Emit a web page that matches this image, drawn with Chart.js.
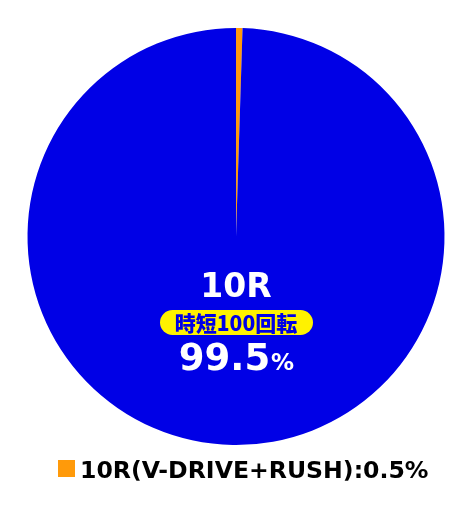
<!DOCTYPE html>
<html>
<head>
<meta charset="utf-8">
<script src="https://cdn.jsdelivr.net/npm/chart.js@4/dist/chart.umd.min.js"></script>
<style>
  body { margin: 0; background: #fff; }
  canvas { display: block; }
</style>
</head>
<body>
<canvas id="pieChart" width="474" height="507"></canvas>
<script>
// values
const labels = ['10R(V-DRIVE+RUSH)', '10R'];
const shares = [0.5, 99.5];
const sliceColors = ['#ff9a0a', '#0000e6'];
const subLabel = '時短100回転';

const latin = '"DejaVu Sans", sans-serif';
const cjk = '"Noto Sans CJK JP", sans-serif';

function roundRect(ctx, x, y, w, h, r) {
  ctx.beginPath();
  ctx.moveTo(x + r, y);
  ctx.lineTo(x + w - r, y);
  ctx.arc(x + w - r, y + r, r, -Math.PI / 2, Math.PI / 2);
  ctx.lineTo(x + r, y + h);
  ctx.arc(x + r, y + r, r, Math.PI / 2, Math.PI * 1.5);
  ctx.closePath();
}

const textPlugin = {
  id: 'textPlugin',
  afterDraw(chart) {
    const ctx = chart.ctx;
    const arc = chart.getDatasetMeta(0).data[0];
    const cx = arc.x;
    ctx.save();
    ctx.textAlign = 'center';
    ctx.textBaseline = 'alphabetic';

    // big slice name
    ctx.fillStyle = '#fff';
    ctx.font = 'bold 33px ' + latin;
    ctx.fillText(labels[1], cx, 297);

    // yellow pill
    ctx.fillStyle = '#fff200';
    roundRect(ctx, 160, 310, 153, 25, 12.5);
    ctx.fill();
    ctx.fillStyle = '#0000e6';
    ctx.font = '900 21px ' + cjk;
    ctx.textBaseline = 'middle';
    ctx.fillText(subLabel, cx, 323);

    // percentage
    ctx.textBaseline = 'alphabetic';
    ctx.fillStyle = '#fff';
    const num = String(shares[1]);
    ctx.font = 'bold 37px ' + latin;
    const wNum = ctx.measureText(num).width;
    ctx.font = 'bold 23px ' + latin;
    const wPct = ctx.measureText('%').width;
    let x0 = cx - (wNum + wPct) / 2;
    ctx.textAlign = 'left';
    ctx.font = 'bold 37px ' + latin;
    ctx.fillText(num, x0, 370);
    ctx.font = 'bold 23px ' + latin;
    ctx.fillText('%', x0 + wNum + 1, 370);

    // legend (orange only)
    ctx.fillStyle = sliceColors[0];
    ctx.fillRect(58, 460, 17, 17);
    ctx.fillStyle = '#000';
    ctx.font = 'bold 23.6px ' + latin;
    ctx.fillText(labels[0] + ':' + shares[0] + '%', 80, 478);
    ctx.restore();
  }
};

new Chart(document.getElementById('pieChart'), {
  type: 'pie',
  data: {
    labels: labels,
    datasets: [{
      data: shares,
      backgroundColor: sliceColors,
      borderWidth: 0
    }]
  },
  options: {
    responsive: false,
    animation: false,
    layout: { padding: { left: 27, right: 29, top: 28, bottom: 62 } },
    plugins: {
      legend: { display: false },
      tooltip: { enabled: false }
    }
  },
  plugins: [textPlugin]
});
</script>
</body>
</html>
